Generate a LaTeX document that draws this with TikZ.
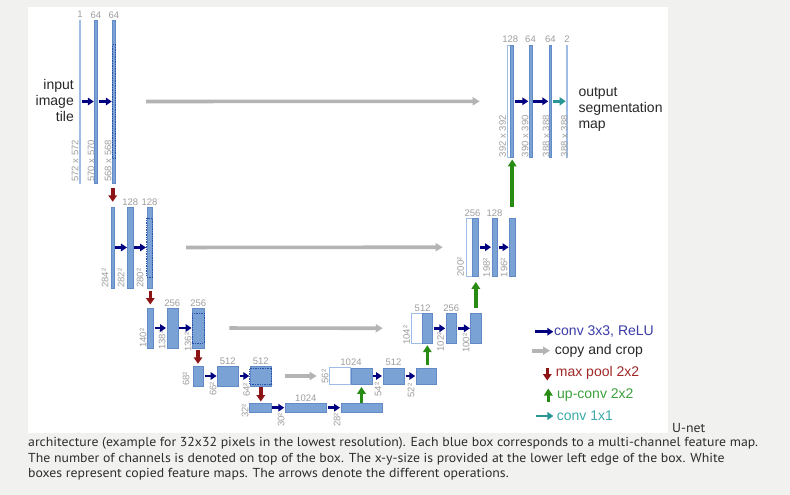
\documentclass[tikz,border=0pt]{standalone}
\usepackage{xcolor}
\usepackage{fontspec}
\setmainfont{Liberation Sans}
\newfontfamily\capfont[FakeStretch=1.06]{PT Sans}
\usepackage{tikz}
\usetikzlibrary{arrows.meta,positioning}

\definecolor{bgray}{RGB}{241,241,240}
\definecolor{mapblue}{RGB}{122,162,212}
\definecolor{mapedge}{RGB}{98,138,198}
\definecolor{cropedge}{RGB}{40,82,170}
\definecolor{lightedge}{RGB}{158,188,230}
\definecolor{labgray}{RGB}{158,158,158}
\definecolor{convblue}{RGB}{0,0,128}
\definecolor{copygray}{RGB}{180,180,180}
\definecolor{poolred}{RGB}{140,20,20}
\definecolor{upgreen}{RGB}{40,140,20}
\definecolor{outteal}{RGB}{40,150,150}
\definecolor{txtdark}{RGB}{40,40,40}
\definecolor{legblue}{RGB}{60,60,170}
\definecolor{legred}{RGB}{160,40,40}
\definecolor{leggreen}{RGB}{60,160,60}
\definecolor{legteal}{RGB}{60,170,170}
\definecolor{captxt}{RGB}{45,45,45}

\tikzset{
  fmap/.style={fill=mapblue, draw=mapedge, line width=0.4pt, inner sep=0pt},
  wmap/.style={fill=white, draw=lightedge, line width=0.6pt, inner sep=0pt},
  thinmap/.style={fill=white, draw=lightedge, line width=0.6pt, inner sep=0pt, minimum width=1pt},
  cropmap/.style={draw=cropedge, line width=1pt, dash pattern=on 1.4pt off 1pt, inner sep=0pt},
  lev1/.style={minimum height=163pt}, lev2/.style={minimum height=81pt},
  lev3/.style={minimum height=40pt}, lev4/.style={minimum height=20pt},
  lev5/.style={minimum height=8.8pt},
  rlev1/.style={minimum height=112.7pt}, rlev2/.style={minimum height=57.7pt},
  rlev3/.style={minimum height=30pt}, rlev4/.style={minimum height=16.6pt},
  chan/.style={text=labgray, font=\fontsize{9.5}{10}\selectfont, inner sep=1.5pt},
  dimlab/.style={rotate=90, anchor=west, inner sep=0pt, text=labgray, font=\fontsize{9.5}{10}\selectfont},
  convarr/.style={draw=convblue, line width=2.6pt, -{Triangle[length=6pt,width=7.5pt]}, shorten <=1pt, shorten >=0.5pt},
  outarr/.style={draw=outteal, line width=2.8pt, -{Triangle[length=6pt,width=8pt]}, shorten <=1pt, shorten >=0.5pt},
  copyarr/.style={draw=copygray, line width=3.6pt, -{Triangle[length=7pt,width=8pt]}},
  poolarr/.style={draw=poolred, line width=3.6pt, -{Triangle[length=6.5pt,width=8.5pt]}},
  uparr/.style={draw=upgreen, line width=3.6pt, -{Triangle[length=7pt,width=8.5pt]}},
  bigtxt/.style={text=txtdark, font=\fontsize{14}{16}\selectfont, inner sep=0pt},
  legtxt/.style={font=\fontsize{14}{16}\selectfont, inner sep=0pt, anchor=west},
  captxtst/.style={text=captxt, font=\capfont\fontsize{13}{15}\selectfont, inner sep=0pt, anchor=base west},
}

\begin{document}
\begin{tikzpicture}[x=1pt, y=-1pt]
            % Fondo
            \path[use as bounding box, fill=bgray] (0,0) rectangle (790,495);
            \fill[white] (28,7) rectangle (668,432.7);

            % Nivel 1 (bajada)
            \node[thinmap, lev1] (d11) at (80,101.5) {};
            \node[fmap, lev1, minimum width=3pt] (d12) at (96,101.5) {};
            \node[fmap, lev1, minimum width=3pt] (d13) at (114,101.5) {};
            \node[cropmap, minimum width=3pt, minimum height=113pt] (k13) at (114,101.5) {};
            % Nivel 2
            \node[fmap, lev2, minimum width=3pt] (d21) at (112.7,247.5) {};
            \node[fmap, lev2, minimum width=5.3pt] (d22) at (130.3,247.5) {};
            \node[fmap, lev2, minimum width=5.6pt] (d23) at (149.5,247.5) {};
            \node[cropmap, minimum width=5.6pt, minimum height=59pt] (k23) at (149.5,247.5) {};
            % Nivel 3
            \node[fmap, lev3, minimum width=6pt] (d31) at (150.3,328) {};
            \node[fmap, lev3, minimum width=11pt] (d32) at (172.2,328) {};
            \node[fmap, lev3, minimum width=11.7pt] (d33) at (198.2,328) {};
            \node[cropmap, minimum width=11.7pt, minimum height=30pt] (k33) at (198.2,328) {};
            % Nivel 4
            \node[fmap, lev4, minimum width=10.6pt] (d41) at (198,376) {};
            \node[fmap, lev4, minimum width=21pt] (d42) at (227.8,376) {};
            \node[fmap, lev4, minimum width=21.7pt] (d43) at (260.8,376) {};
            \node[cropmap, minimum width=21.7pt, minimum height=16pt] (k43) at (260.8,376) {};
            % Nivel 5
            \node[fmap, lev5, minimum width=21.7pt] (d51) at (260.2,407.7) {};
            \node[fmap, lev5, minimum width=41.7pt] (d52) at (305.8,407.7) {};
            \node[fmap, lev5, minimum width=41.6pt] (d53) at (361.5,407.7) {};
            % Nivel 4 (subida)
            \node[wmap, rlev4, minimum width=21.4pt] (u4a) at (340,376) {};
            \node[fmap, rlev4, minimum width=21pt] (u4b) at (361.2,376) {};
            \node[fmap, rlev4, minimum width=21.6pt] (u4c) at (393.5,376) {};
            \node[fmap, rlev4, minimum width=20.7pt] (u4d) at (426.3,376) {};
            % Nivel 3 (subida)
            \node[wmap, rlev3, minimum width=11.3pt] (u3a) at (416.7,328.3) {};
            \node[fmap, rlev3, minimum width=10pt] (u3b) at (427.3,328.3) {};
            \node[fmap, rlev3, minimum width=10.7pt] (u3c) at (451.3,328.3) {};
            \node[fmap, rlev3, minimum width=10.3pt] (u3d) at (475.8,328.3) {};
            % Nivel 2 (subida)
            \node[wmap, rlev2, minimum width=5.6pt] (u2a) at (469.5,247.2) {};
            \node[fmap, rlev2, minimum width=6pt] (u2b) at (475.3,247.2) {};
            \node[fmap, rlev2, minimum width=5.6pt] (u2c) at (494.5,247.2) {};
            \node[fmap, rlev2, minimum width=5.7pt] (u2d) at (512.2,247.2) {};
            % Nivel 1 (subida)
            \node[wmap, rlev1, minimum width=2.3pt] (u1a) at (508.85,101.3) {};
            \node[fmap, rlev1, minimum width=3.3pt] (u1b) at (511.65,101.3) {};
            \node[fmap, rlev1, minimum width=3pt] (u1c) at (530.5,101.3) {};
            \node[fmap, rlev1, minimum width=2.7pt] (u1d) at (550.3,101.3) {};
            \node[thinmap, rlev1] (u1e) at (567,101.3) {};

            % Canales
            \node[chan, above=0pt of d11] (n11) {1};
            \node[chan, above=0pt of d12] (n12) {64};
            \node[chan, above=0pt of d13] (n13) {64};
            \node[chan, above=0pt of d22] (n22) {128};
            \node[chan, above=0pt of d23] (n23) {128};
            \node[chan, above=0pt of d32] (n32) {256};
            \node[chan, above=0pt of d33] (n33) {256};
            \node[chan, above=0pt of d42] (n42) {512};
            \node[chan, above=0pt of d43] (n43) {512};
            \node[chan, above=0pt of d52] (n52) {1024};
            \node[chan, above=0pt of u4a.north east] (m4a) {1024};
            \node[chan, above=0pt of u4c] (m4c) {512};
            \node[chan, above=0pt of u3a.north east] (m3a) {512};
            \node[chan, above=0pt of u3c] (m3c) {256};
            \node[chan, above=0pt of u2a.north east] (m2a) {256};
            \node[chan, above=0pt of u2c] (m2c) {128};
            \node[chan, above=0pt of u1a.north east] (m1a) {128};
            \node[chan, above=0pt of u1c] (m1c) {64};
            \node[chan, above=0pt of u1d] (m1d) {64};
            \node[chan, above=0pt of u1e] (m1e) {2};

            % Tamanos
            \node[dimlab] (s11) at (75,182) {572 x 572};
            \node[dimlab] (s12) at (91,182) {570 x 570};
            \node[dimlab] (s13) at (108,182) {568 x 568};
            \node[dimlab] (s21) at (105,288) {284²};
            \node[dimlab] (s22) at (121,288) {282²};
            \node[dimlab] (s23) at (140,288) {280²};
            \node[dimlab] (s31) at (143,348) {140²};
            \node[dimlab] (s32) at (162,350) {138²};
            \node[dimlab] (s33) at (188,352) {136²};
            \node[dimlab] (s41) at (186,386) {68²};
            \node[dimlab] (s42) at (213,396) {66²};
            \node[dimlab] (s43) at (246.5,397) {64²};
            \node[dimlab] (s51) at (245,418) {32²};
            \node[dimlab] (s52) at (281,427) {30²};
            \node[dimlab] (s53) at (337,427) {28²};
            \node[dimlab] (r41) at (325,383.5) {56²};
            \node[dimlab] (r42) at (378,396.5) {54²};
            \node[dimlab] (r43) at (411,397.5) {52²};
            \node[dimlab] (r31) at (406.7,345) {104²};
            \node[dimlab] (r32) at (440.7,351.7) {102²};
            \node[dimlab] (r33) at (466,353) {100²};
            \node[dimlab] (r21) at (460.7,276.5) {200²};
            \node[dimlab] (r22) at (486.7,277.3) {198²};
            \node[dimlab] (r23) at (504,277.3) {196²};
            \node[dimlab] (r11) at (502.7,157.3) {392 x 392};
            \node[dimlab] (r12) at (525,157.3) {390 x 390};
            \node[dimlab] (r13) at (546,157.3) {388 x 388};
            \node[dimlab] (r14) at (564.3,157.3) {388 x 388};

            % Textos
            \node[bigtxt, align=right, anchor=east] (intile) at (74,100) {input\\image\\tile};
            \node[bigtxt, align=left, anchor=west] (outmap) at (578.3,109.5) {output\\segmentation\\map};

            % Flechas conv 3x3
            \draw[convarr] (d11.east) -- (d12.west);
            \draw[convarr] (d12.east) -- (d13.west);
            \draw[convarr] (d21.east) -- (d22.west);
            \draw[convarr] (d22.east) -- (d23.west);
            \draw[convarr] (d31.east) -- (d32.west);
            \draw[convarr] (d32.east) -- (d33.west);
            \draw[convarr] (d41.east) -- (d42.west);
            \draw[convarr] (d42.east) -- (d43.west);
            \draw[convarr] (d51.east) -- (d52.west);
            \draw[convarr] (d52.east) -- (d53.west);
            \draw[convarr] (u4b.east) -- (u4c.west);
            \draw[convarr] (u4c.east) -- (u4d.west);
            \draw[convarr] (u3b.east) -- (u3c.west);
            \draw[convarr] (u3c.east) -- (u3d.west);
            \draw[convarr] (u2b.east) -- (u2c.west);
            \draw[convarr] (u2c.east) -- (u2d.west);
            \draw[convarr] (u1b.east) -- (u1c.west);
            \draw[convarr] (u1c.east) -- (u1d.west);
            \draw[outarr] (u1d.east) -- (u1e.west);

            % Copiar y recortar
            \draw[copyarr, shorten <=30.5pt, shorten >=27.7pt] (d13.east) -- (u1a.west);
            \draw[copyarr, shorten <=33.7pt, shorten >=23.7pt] (d23.east) -- (u2a.west);
            \draw[copyarr, shorten <=25pt, shorten >=28pt] (d33.east) -- (u3a.west);
            \draw[copyarr, shorten <=13.3pt, shorten >=12.3pt] (d43.east) -- (u4a.west);

            % Max pool
            \draw[poolarr, shorten <=4.7pt, shorten >=5pt] (d21.north |- d13.south) -- (d21.north);
            \draw[poolarr, shorten <=2.7pt, shorten >=3.3pt] (d31.north |- d23.south) -- (d31.north);
            \draw[poolarr, shorten <=2pt, shorten >=2pt] (d41.north |- d33.south) -- (d41.north);
            \draw[poolarr, shorten <=0.7pt, shorten >=1.6pt] (d43.south) -- (d43.south |- d51.north);

            % Up-conv
            \draw[uparr, shorten <=0.3pt, shorten >=2.4pt] (d53.north) -- (d53.north |- u4b.south);
            \draw[uparr, shorten <=2.7pt, shorten >=1.7pt] (u3b.south |- u4d.north) -- (u3b.south);
            \draw[uparr, shorten <=5pt, shorten >=5.7pt] (u3d.north) -- (u3d.north |- u2b.south);
            \draw[uparr, shorten <=11.6pt, shorten >=1.6pt] (u2d.north) -- (u2d.north |- u1b.south);

            % Leyenda
            \node[legtxt, text=legblue] (lg1) at (554,331.7) {conv 3x3, ReLU};
            \node[legtxt, text=txtdark] (lg2) at (554.7,350.7) {copy and crop};
            \node[legtxt, text=legred] (lg3) at (555.7,373.3) {max pool 2x2};
            \node[legtxt, text=leggreen] (lg4) at (557,395) {up-conv 2x2};
            \node[legtxt, text=legteal] (lg5) at (556.7,416) {conv 1x1};
            \coordinate (la1) at (535,331.7);
            \coordinate (la2) at (531.7,350.7);
            \coordinate (la3) at (547.3,368.3);
            \coordinate (lb3) at (547.3,380.5);
            \coordinate (la4) at (548.3,401.7);
            \coordinate (lb4) at (548.3,388.5);
            \coordinate (la5) at (536,416);
            \draw[convarr, shorten <=0pt, shorten >=0.7pt] (la1) -- (lg1.west);
            \draw[copyarr, shorten >=4.7pt] (la2) -- (lg2.west);
            \draw[poolarr] (la3) -- (lb3);
            \draw[uparr] (la4) -- (lb4);
            \draw[outarr, shorten <=0pt, shorten >=3.4pt] (la5) -- (lg5.west);

            % Pie de figura
            \node[captxtst] (cap0) at (672,432.5) {U-net};
            \node[captxtst] (cap1) at (28,446.5) {architecture (example for 32x32 pixels in the lowest resolution). Each blue box corresponds to a multi-channel feature map.};
            \node[captxtst] (cap2) at (28,462) {The number of channels is denoted on top of the box. The x-y-size is provided at the lower left edge of the box. White};
            \node[captxtst] (cap3) at (28,477) {boxes represent copied feature maps. The arrows denote the different operations.};
\end{tikzpicture}
\end{document}
